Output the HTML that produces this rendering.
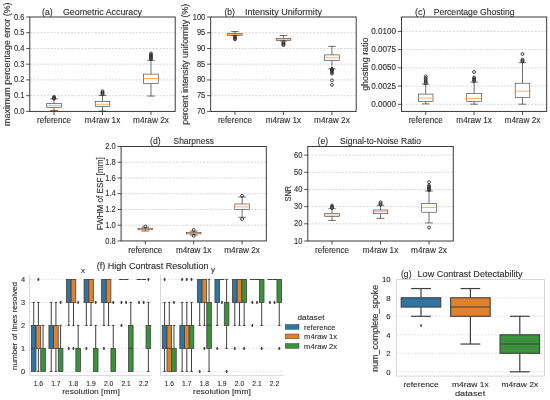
<!DOCTYPE html>
<html><head><meta charset="utf-8"><title>figure</title>
<style>
html,body{margin:0;padding:0;background:#fff;}
body{width:550px;height:400px;overflow:hidden;}
svg{display:block;font-family:"Liberation Sans", sans-serif;will-change:transform;}
text{stroke:#333333;stroke-width:0.12px;}
</style></head>
<body>
<svg width="550" height="400" viewBox="0 0 550 400">
<rect x="0" y="0" width="550" height="400" fill="#ffffff"/>
<line x1="30.30" y1="95.66" x2="174.70" y2="95.66" stroke="#c8c8c8" stroke-width="0.8" stroke-dasharray="1.9 1.5"/>
<line x1="30.30" y1="79.92" x2="174.70" y2="79.92" stroke="#c8c8c8" stroke-width="0.8" stroke-dasharray="1.9 1.5"/>
<line x1="30.30" y1="64.18" x2="174.70" y2="64.18" stroke="#c8c8c8" stroke-width="0.8" stroke-dasharray="1.9 1.5"/>
<line x1="30.30" y1="48.44" x2="174.70" y2="48.44" stroke="#c8c8c8" stroke-width="0.8" stroke-dasharray="1.9 1.5"/>
<line x1="30.30" y1="32.70" x2="174.70" y2="32.70" stroke="#c8c8c8" stroke-width="0.8" stroke-dasharray="1.9 1.5"/>
<line x1="54.03" y1="103.60" x2="54.03" y2="98.80" stroke="#333333" stroke-width="0.7"/>
<line x1="54.03" y1="107.50" x2="54.03" y2="110.50" stroke="#333333" stroke-width="0.7"/>
<line x1="50.23" y1="98.80" x2="57.83" y2="98.80" stroke="#333333" stroke-width="0.7"/>
<line x1="50.23" y1="110.50" x2="57.83" y2="110.50" stroke="#333333" stroke-width="0.7"/>
<rect x="46.73" y="103.60" width="14.60" height="3.90" fill="#ffffff" stroke="#333333" stroke-width="0.6"/>
<line x1="47.13" y1="105.65" x2="60.93" y2="105.65" stroke="#ff7f0e" stroke-width="0.6"/>
<circle cx="54.03" cy="96.90" r="1.45" fill="none" stroke="#262626" stroke-width="0.85"/>
<circle cx="54.03" cy="97.90" r="1.45" fill="none" stroke="#262626" stroke-width="0.85"/>
<circle cx="54.03" cy="98.60" r="1.45" fill="none" stroke="#262626" stroke-width="0.85"/>
<line x1="102.50" y1="101.40" x2="102.50" y2="95.50" stroke="#333333" stroke-width="0.7"/>
<line x1="102.50" y1="106.40" x2="102.50" y2="111.10" stroke="#333333" stroke-width="0.7"/>
<line x1="98.70" y1="95.50" x2="106.30" y2="95.50" stroke="#333333" stroke-width="0.7"/>
<line x1="98.70" y1="111.10" x2="106.30" y2="111.10" stroke="#333333" stroke-width="0.7"/>
<rect x="95.20" y="101.40" width="14.60" height="5.00" fill="#ffffff" stroke="#333333" stroke-width="0.6"/>
<line x1="95.60" y1="104.30" x2="109.40" y2="104.30" stroke="#ff7f0e" stroke-width="0.6"/>
<circle cx="102.50" cy="91.20" r="1.45" fill="none" stroke="#262626" stroke-width="0.85"/>
<circle cx="102.50" cy="92.40" r="1.45" fill="none" stroke="#262626" stroke-width="0.85"/>
<circle cx="102.50" cy="93.40" r="1.45" fill="none" stroke="#262626" stroke-width="0.85"/>
<circle cx="102.50" cy="94.20" r="1.45" fill="none" stroke="#262626" stroke-width="0.85"/>
<line x1="150.97" y1="74.10" x2="150.97" y2="60.30" stroke="#333333" stroke-width="0.7"/>
<line x1="150.97" y1="83.50" x2="150.97" y2="96.05" stroke="#333333" stroke-width="0.7"/>
<line x1="147.17" y1="60.30" x2="154.77" y2="60.30" stroke="#333333" stroke-width="0.7"/>
<line x1="147.17" y1="96.05" x2="154.77" y2="96.05" stroke="#333333" stroke-width="0.7"/>
<rect x="143.67" y="74.10" width="14.60" height="9.40" fill="#ffffff" stroke="#333333" stroke-width="0.6"/>
<line x1="144.07" y1="78.50" x2="157.87" y2="78.50" stroke="#ff7f0e" stroke-width="0.6"/>
<circle cx="150.97" cy="53.50" r="1.45" fill="none" stroke="#262626" stroke-width="0.85"/>
<circle cx="150.97" cy="54.60" r="1.45" fill="none" stroke="#262626" stroke-width="0.85"/>
<circle cx="150.97" cy="55.80" r="1.45" fill="none" stroke="#262626" stroke-width="0.85"/>
<circle cx="150.97" cy="57.00" r="1.45" fill="none" stroke="#262626" stroke-width="0.85"/>
<circle cx="150.97" cy="58.20" r="1.45" fill="none" stroke="#262626" stroke-width="0.85"/>
<circle cx="150.97" cy="59.20" r="1.45" fill="none" stroke="#262626" stroke-width="0.85"/>
<rect x="29.80" y="17.00" width="145.40" height="94.40" fill="none" stroke="#262626" stroke-width="0.9"/>
<line x1="26.20" y1="111.40" x2="29.80" y2="111.40" stroke="#262626" stroke-width="0.8"/>
<text x="24.40" y="113.95" font-size="8.3" text-anchor="end" fill="#2e2e2e" textLength="10.50" lengthAdjust="spacingAndGlyphs">0.0</text>
<line x1="26.20" y1="95.66" x2="29.80" y2="95.66" stroke="#262626" stroke-width="0.8"/>
<text x="24.40" y="98.21" font-size="8.3" text-anchor="end" fill="#2e2e2e" textLength="10.50" lengthAdjust="spacingAndGlyphs">0.1</text>
<line x1="26.20" y1="79.92" x2="29.80" y2="79.92" stroke="#262626" stroke-width="0.8"/>
<text x="24.40" y="82.47" font-size="8.3" text-anchor="end" fill="#2e2e2e" textLength="10.50" lengthAdjust="spacingAndGlyphs">0.2</text>
<line x1="26.20" y1="64.18" x2="29.80" y2="64.18" stroke="#262626" stroke-width="0.8"/>
<text x="24.40" y="66.73" font-size="8.3" text-anchor="end" fill="#2e2e2e" textLength="10.50" lengthAdjust="spacingAndGlyphs">0.3</text>
<line x1="26.20" y1="48.44" x2="29.80" y2="48.44" stroke="#262626" stroke-width="0.8"/>
<text x="24.40" y="50.99" font-size="8.3" text-anchor="end" fill="#2e2e2e" textLength="10.50" lengthAdjust="spacingAndGlyphs">0.4</text>
<line x1="26.20" y1="32.70" x2="29.80" y2="32.70" stroke="#262626" stroke-width="0.8"/>
<text x="24.40" y="35.25" font-size="8.3" text-anchor="end" fill="#2e2e2e" textLength="10.50" lengthAdjust="spacingAndGlyphs">0.5</text>
<line x1="26.20" y1="16.96" x2="29.80" y2="16.96" stroke="#262626" stroke-width="0.8"/>
<text x="24.40" y="19.51" font-size="8.3" text-anchor="end" fill="#2e2e2e" textLength="10.50" lengthAdjust="spacingAndGlyphs">0.6</text>
<line x1="54.03" y1="111.40" x2="54.03" y2="115.00" stroke="#262626" stroke-width="0.8"/>
<text x="54.03" y="122.50" font-size="8.5" text-anchor="middle" fill="#2e2e2e" textLength="34.00" lengthAdjust="spacingAndGlyphs">reference</text>
<line x1="102.50" y1="111.40" x2="102.50" y2="115.00" stroke="#262626" stroke-width="0.8"/>
<text x="102.50" y="122.50" font-size="8.5" text-anchor="middle" fill="#2e2e2e" textLength="35.50" lengthAdjust="spacingAndGlyphs">m4raw 1x</text>
<line x1="150.97" y1="111.40" x2="150.97" y2="115.00" stroke="#262626" stroke-width="0.8"/>
<text x="150.97" y="122.50" font-size="8.5" text-anchor="middle" fill="#2e2e2e" textLength="35.80" lengthAdjust="spacingAndGlyphs">m4raw 2x</text>
<text x="102.50" y="14.80" font-size="9.1" text-anchor="middle" fill="#2e2e2e" textLength="79.00" lengthAdjust="spacingAndGlyphs">Geometric Accuracy</text>
<text x="42.00" y="14.80" font-size="9.1" text-anchor="start" fill="#2e2e2e" textLength="10.60" lengthAdjust="spacingAndGlyphs">(a)</text>
<text x="9.80" y="64.20" font-size="8.6" text-anchor="middle" fill="#2e2e2e" textLength="123.50" lengthAdjust="spacingAndGlyphs" transform="rotate(-90 9.80 64.20)">maximum percentage error (%)</text>
<line x1="211.20" y1="95.67" x2="355.70" y2="95.67" stroke="#c8c8c8" stroke-width="0.8" stroke-dasharray="1.9 1.5"/>
<line x1="211.20" y1="79.94" x2="355.70" y2="79.94" stroke="#c8c8c8" stroke-width="0.8" stroke-dasharray="1.9 1.5"/>
<line x1="211.20" y1="64.20" x2="355.70" y2="64.20" stroke="#c8c8c8" stroke-width="0.8" stroke-dasharray="1.9 1.5"/>
<line x1="211.20" y1="48.47" x2="355.70" y2="48.47" stroke="#c8c8c8" stroke-width="0.8" stroke-dasharray="1.9 1.5"/>
<line x1="211.20" y1="32.73" x2="355.70" y2="32.73" stroke="#c8c8c8" stroke-width="0.8" stroke-dasharray="1.9 1.5"/>
<line x1="234.95" y1="33.70" x2="234.95" y2="31.50" stroke="#333333" stroke-width="0.7"/>
<line x1="234.95" y1="35.20" x2="234.95" y2="35.60" stroke="#333333" stroke-width="0.7"/>
<line x1="231.15" y1="31.50" x2="238.75" y2="31.50" stroke="#333333" stroke-width="0.7"/>
<line x1="231.15" y1="35.60" x2="238.75" y2="35.60" stroke="#333333" stroke-width="0.7"/>
<rect x="227.65" y="33.70" width="14.60" height="1.50" fill="#ffffff" stroke="#333333" stroke-width="0.6"/>
<line x1="228.05" y1="34.40" x2="241.85" y2="34.40" stroke="#ff7f0e" stroke-width="0.6"/>
<circle cx="234.95" cy="36.60" r="1.45" fill="none" stroke="#262626" stroke-width="0.85"/>
<circle cx="234.95" cy="37.60" r="1.45" fill="none" stroke="#262626" stroke-width="0.85"/>
<circle cx="234.95" cy="38.60" r="1.45" fill="none" stroke="#262626" stroke-width="0.85"/>
<circle cx="234.95" cy="39.30" r="1.45" fill="none" stroke="#262626" stroke-width="0.85"/>
<line x1="283.45" y1="38.40" x2="283.45" y2="35.50" stroke="#333333" stroke-width="0.7"/>
<line x1="283.45" y1="40.30" x2="283.45" y2="41.00" stroke="#333333" stroke-width="0.7"/>
<line x1="279.65" y1="35.50" x2="287.25" y2="35.50" stroke="#333333" stroke-width="0.7"/>
<line x1="279.65" y1="41.00" x2="287.25" y2="41.00" stroke="#333333" stroke-width="0.7"/>
<rect x="276.15" y="38.40" width="14.60" height="1.90" fill="#ffffff" stroke="#333333" stroke-width="0.6"/>
<line x1="276.55" y1="39.30" x2="290.35" y2="39.30" stroke="#ff7f0e" stroke-width="0.6"/>
<circle cx="283.45" cy="42.20" r="1.45" fill="none" stroke="#262626" stroke-width="0.85"/>
<circle cx="283.45" cy="43.20" r="1.45" fill="none" stroke="#262626" stroke-width="0.85"/>
<circle cx="283.45" cy="44.20" r="1.45" fill="none" stroke="#262626" stroke-width="0.85"/>
<circle cx="283.45" cy="45.20" r="1.45" fill="none" stroke="#262626" stroke-width="0.85"/>
<line x1="331.95" y1="54.90" x2="331.95" y2="46.40" stroke="#333333" stroke-width="0.7"/>
<line x1="331.95" y1="60.40" x2="331.95" y2="68.90" stroke="#333333" stroke-width="0.7"/>
<line x1="328.15" y1="46.40" x2="335.75" y2="46.40" stroke="#333333" stroke-width="0.7"/>
<line x1="328.15" y1="68.90" x2="335.75" y2="68.90" stroke="#333333" stroke-width="0.7"/>
<rect x="324.65" y="54.90" width="14.60" height="5.50" fill="#ffffff" stroke="#333333" stroke-width="0.6"/>
<line x1="325.05" y1="57.70" x2="338.85" y2="57.70" stroke="#ff7f0e" stroke-width="0.6"/>
<circle cx="331.95" cy="69.00" r="1.45" fill="none" stroke="#262626" stroke-width="0.85"/>
<circle cx="331.95" cy="69.90" r="1.45" fill="none" stroke="#262626" stroke-width="0.85"/>
<circle cx="331.95" cy="70.80" r="1.45" fill="none" stroke="#262626" stroke-width="0.85"/>
<circle cx="331.95" cy="72.30" r="1.45" fill="none" stroke="#262626" stroke-width="0.85"/>
<circle cx="331.95" cy="73.70" r="1.45" fill="none" stroke="#262626" stroke-width="0.85"/>
<circle cx="331.95" cy="80.40" r="1.45" fill="none" stroke="#262626" stroke-width="0.85"/>
<circle cx="331.95" cy="84.90" r="1.45" fill="none" stroke="#262626" stroke-width="0.85"/>
<rect x="210.70" y="17.00" width="145.50" height="94.40" fill="none" stroke="#262626" stroke-width="0.9"/>
<line x1="207.10" y1="111.41" x2="210.70" y2="111.41" stroke="#262626" stroke-width="0.8"/>
<text x="205.30" y="113.96" font-size="8.3" text-anchor="end" fill="#2e2e2e" textLength="8.40" lengthAdjust="spacingAndGlyphs">70</text>
<line x1="207.10" y1="95.67" x2="210.70" y2="95.67" stroke="#262626" stroke-width="0.8"/>
<text x="205.30" y="98.22" font-size="8.3" text-anchor="end" fill="#2e2e2e" textLength="8.40" lengthAdjust="spacingAndGlyphs">75</text>
<line x1="207.10" y1="79.94" x2="210.70" y2="79.94" stroke="#262626" stroke-width="0.8"/>
<text x="205.30" y="82.49" font-size="8.3" text-anchor="end" fill="#2e2e2e" textLength="8.40" lengthAdjust="spacingAndGlyphs">80</text>
<line x1="207.10" y1="64.20" x2="210.70" y2="64.20" stroke="#262626" stroke-width="0.8"/>
<text x="205.30" y="66.75" font-size="8.3" text-anchor="end" fill="#2e2e2e" textLength="8.40" lengthAdjust="spacingAndGlyphs">85</text>
<line x1="207.10" y1="48.47" x2="210.70" y2="48.47" stroke="#262626" stroke-width="0.8"/>
<text x="205.30" y="51.02" font-size="8.3" text-anchor="end" fill="#2e2e2e" textLength="8.40" lengthAdjust="spacingAndGlyphs">90</text>
<line x1="207.10" y1="32.73" x2="210.70" y2="32.73" stroke="#262626" stroke-width="0.8"/>
<text x="205.30" y="35.28" font-size="8.3" text-anchor="end" fill="#2e2e2e" textLength="8.40" lengthAdjust="spacingAndGlyphs">95</text>
<line x1="207.10" y1="17.00" x2="210.70" y2="17.00" stroke="#262626" stroke-width="0.8"/>
<text x="205.30" y="19.55" font-size="8.3" text-anchor="end" fill="#2e2e2e" textLength="12.60" lengthAdjust="spacingAndGlyphs">100</text>
<line x1="234.95" y1="111.40" x2="234.95" y2="115.00" stroke="#262626" stroke-width="0.8"/>
<text x="234.95" y="122.50" font-size="8.5" text-anchor="middle" fill="#2e2e2e" textLength="34.00" lengthAdjust="spacingAndGlyphs">reference</text>
<line x1="283.45" y1="111.40" x2="283.45" y2="115.00" stroke="#262626" stroke-width="0.8"/>
<text x="283.45" y="122.50" font-size="8.5" text-anchor="middle" fill="#2e2e2e" textLength="35.50" lengthAdjust="spacingAndGlyphs">m4raw 1x</text>
<line x1="331.95" y1="111.40" x2="331.95" y2="115.00" stroke="#262626" stroke-width="0.8"/>
<text x="331.95" y="122.50" font-size="8.5" text-anchor="middle" fill="#2e2e2e" textLength="35.80" lengthAdjust="spacingAndGlyphs">m4raw 2x</text>
<text x="283.45" y="14.80" font-size="9.1" text-anchor="middle" fill="#2e2e2e" textLength="77.00" lengthAdjust="spacingAndGlyphs">Intensity Uniformity</text>
<text x="224.40" y="14.80" font-size="9.1" text-anchor="start" fill="#2e2e2e" textLength="10.60" lengthAdjust="spacingAndGlyphs">(b)</text>
<text x="188.30" y="64.20" font-size="8.6" text-anchor="middle" fill="#2e2e2e" textLength="121.00" lengthAdjust="spacingAndGlyphs" transform="rotate(-90 188.30 64.20)">percent intensity uniformity (%)</text>
<line x1="402.00" y1="104.30" x2="546.20" y2="104.30" stroke="#c8c8c8" stroke-width="0.8" stroke-dasharray="1.9 1.5"/>
<line x1="402.00" y1="86.07" x2="546.20" y2="86.07" stroke="#c8c8c8" stroke-width="0.8" stroke-dasharray="1.9 1.5"/>
<line x1="402.00" y1="67.85" x2="546.20" y2="67.85" stroke="#c8c8c8" stroke-width="0.8" stroke-dasharray="1.9 1.5"/>
<line x1="402.00" y1="49.62" x2="546.20" y2="49.62" stroke="#c8c8c8" stroke-width="0.8" stroke-dasharray="1.9 1.5"/>
<line x1="402.00" y1="31.40" x2="546.20" y2="31.40" stroke="#c8c8c8" stroke-width="0.8" stroke-dasharray="1.9 1.5"/>
<line x1="425.70" y1="94.10" x2="425.70" y2="84.10" stroke="#333333" stroke-width="0.7"/>
<line x1="425.70" y1="101.30" x2="425.70" y2="103.90" stroke="#333333" stroke-width="0.7"/>
<line x1="421.90" y1="84.10" x2="429.50" y2="84.10" stroke="#333333" stroke-width="0.7"/>
<line x1="421.90" y1="103.90" x2="429.50" y2="103.90" stroke="#333333" stroke-width="0.7"/>
<rect x="418.40" y="94.10" width="14.60" height="7.20" fill="#ffffff" stroke="#333333" stroke-width="0.6"/>
<line x1="418.80" y1="98.10" x2="432.60" y2="98.10" stroke="#ff7f0e" stroke-width="0.6"/>
<circle cx="425.70" cy="76.40" r="1.45" fill="none" stroke="#262626" stroke-width="0.85"/>
<circle cx="425.70" cy="78.00" r="1.45" fill="none" stroke="#262626" stroke-width="0.85"/>
<circle cx="425.70" cy="79.50" r="1.45" fill="none" stroke="#262626" stroke-width="0.85"/>
<circle cx="425.70" cy="81.00" r="1.45" fill="none" stroke="#262626" stroke-width="0.85"/>
<circle cx="425.70" cy="82.30" r="1.45" fill="none" stroke="#262626" stroke-width="0.85"/>
<circle cx="425.70" cy="83.40" r="1.45" fill="none" stroke="#262626" stroke-width="0.85"/>
<line x1="474.10" y1="93.40" x2="474.10" y2="82.00" stroke="#333333" stroke-width="0.7"/>
<line x1="474.10" y1="101.40" x2="474.10" y2="104.20" stroke="#333333" stroke-width="0.7"/>
<line x1="470.30" y1="82.00" x2="477.90" y2="82.00" stroke="#333333" stroke-width="0.7"/>
<line x1="470.30" y1="104.20" x2="477.90" y2="104.20" stroke="#333333" stroke-width="0.7"/>
<rect x="466.80" y="93.40" width="14.60" height="8.00" fill="#ffffff" stroke="#333333" stroke-width="0.6"/>
<line x1="467.20" y1="98.40" x2="481.00" y2="98.40" stroke="#ff7f0e" stroke-width="0.6"/>
<circle cx="474.10" cy="72.00" r="1.45" fill="none" stroke="#262626" stroke-width="0.85"/>
<circle cx="474.10" cy="77.50" r="1.45" fill="none" stroke="#262626" stroke-width="0.85"/>
<circle cx="474.10" cy="78.80" r="1.45" fill="none" stroke="#262626" stroke-width="0.85"/>
<circle cx="474.10" cy="80.00" r="1.45" fill="none" stroke="#262626" stroke-width="0.85"/>
<circle cx="474.10" cy="81.20" r="1.45" fill="none" stroke="#262626" stroke-width="0.85"/>
<line x1="522.50" y1="83.20" x2="522.50" y2="62.60" stroke="#333333" stroke-width="0.7"/>
<line x1="522.50" y1="97.60" x2="522.50" y2="104.20" stroke="#333333" stroke-width="0.7"/>
<line x1="518.70" y1="62.60" x2="526.30" y2="62.60" stroke="#333333" stroke-width="0.7"/>
<line x1="518.70" y1="104.20" x2="526.30" y2="104.20" stroke="#333333" stroke-width="0.7"/>
<rect x="515.20" y="83.20" width="14.60" height="14.40" fill="#ffffff" stroke="#333333" stroke-width="0.6"/>
<line x1="515.60" y1="91.20" x2="529.40" y2="91.20" stroke="#ff7f0e" stroke-width="0.6"/>
<circle cx="522.50" cy="54.00" r="1.45" fill="none" stroke="#262626" stroke-width="0.85"/>
<circle cx="522.50" cy="59.50" r="1.45" fill="none" stroke="#262626" stroke-width="0.85"/>
<circle cx="522.50" cy="60.60" r="1.45" fill="none" stroke="#262626" stroke-width="0.85"/>
<circle cx="522.50" cy="61.60" r="1.45" fill="none" stroke="#262626" stroke-width="0.85"/>
<rect x="401.50" y="17.00" width="145.20" height="94.40" fill="none" stroke="#262626" stroke-width="0.9"/>
<line x1="397.90" y1="104.30" x2="401.50" y2="104.30" stroke="#262626" stroke-width="0.8"/>
<text x="396.10" y="106.85" font-size="8.3" text-anchor="end" fill="#2e2e2e" textLength="24.80" lengthAdjust="spacingAndGlyphs">0.0000</text>
<line x1="397.90" y1="86.07" x2="401.50" y2="86.07" stroke="#262626" stroke-width="0.8"/>
<text x="396.10" y="88.62" font-size="8.3" text-anchor="end" fill="#2e2e2e" textLength="24.80" lengthAdjust="spacingAndGlyphs">0.0025</text>
<line x1="397.90" y1="67.85" x2="401.50" y2="67.85" stroke="#262626" stroke-width="0.8"/>
<text x="396.10" y="70.40" font-size="8.3" text-anchor="end" fill="#2e2e2e" textLength="24.80" lengthAdjust="spacingAndGlyphs">0.0050</text>
<line x1="397.90" y1="49.62" x2="401.50" y2="49.62" stroke="#262626" stroke-width="0.8"/>
<text x="396.10" y="52.17" font-size="8.3" text-anchor="end" fill="#2e2e2e" textLength="24.80" lengthAdjust="spacingAndGlyphs">0.0075</text>
<line x1="397.90" y1="31.40" x2="401.50" y2="31.40" stroke="#262626" stroke-width="0.8"/>
<text x="396.10" y="33.95" font-size="8.3" text-anchor="end" fill="#2e2e2e" textLength="24.80" lengthAdjust="spacingAndGlyphs">0.0100</text>
<line x1="425.70" y1="111.40" x2="425.70" y2="115.00" stroke="#262626" stroke-width="0.8"/>
<text x="425.70" y="122.50" font-size="8.5" text-anchor="middle" fill="#2e2e2e" textLength="34.00" lengthAdjust="spacingAndGlyphs">reference</text>
<line x1="474.10" y1="111.40" x2="474.10" y2="115.00" stroke="#262626" stroke-width="0.8"/>
<text x="474.10" y="122.50" font-size="8.5" text-anchor="middle" fill="#2e2e2e" textLength="35.50" lengthAdjust="spacingAndGlyphs">m4raw 1x</text>
<line x1="522.50" y1="111.40" x2="522.50" y2="115.00" stroke="#262626" stroke-width="0.8"/>
<text x="522.50" y="122.50" font-size="8.5" text-anchor="middle" fill="#2e2e2e" textLength="35.80" lengthAdjust="spacingAndGlyphs">m4raw 2x</text>
<text x="474.10" y="14.80" font-size="9.1" text-anchor="middle" fill="#2e2e2e" textLength="80.80" lengthAdjust="spacingAndGlyphs">Percentage Ghosting</text>
<text x="415.00" y="14.80" font-size="9.1" text-anchor="start" fill="#2e2e2e" textLength="10.60" lengthAdjust="spacingAndGlyphs">(c)</text>
<text x="368.20" y="64.20" font-size="8.6" text-anchor="middle" fill="#2e2e2e" textLength="53.30" lengthAdjust="spacingAndGlyphs" transform="rotate(-90 368.20 64.20)">ghosting ratio</text>
<line x1="121.60" y1="225.20" x2="265.80" y2="225.20" stroke="#c8c8c8" stroke-width="0.8" stroke-dasharray="1.9 1.5"/>
<line x1="121.60" y1="209.45" x2="265.80" y2="209.45" stroke="#c8c8c8" stroke-width="0.8" stroke-dasharray="1.9 1.5"/>
<line x1="121.60" y1="193.70" x2="265.80" y2="193.70" stroke="#c8c8c8" stroke-width="0.8" stroke-dasharray="1.9 1.5"/>
<line x1="121.60" y1="177.95" x2="265.80" y2="177.95" stroke="#c8c8c8" stroke-width="0.8" stroke-dasharray="1.9 1.5"/>
<line x1="121.60" y1="162.20" x2="265.80" y2="162.20" stroke="#c8c8c8" stroke-width="0.8" stroke-dasharray="1.9 1.5"/>
<line x1="145.30" y1="228.30" x2="145.30" y2="227.20" stroke="#333333" stroke-width="0.7"/>
<line x1="145.30" y1="229.80" x2="145.30" y2="231.00" stroke="#333333" stroke-width="0.7"/>
<line x1="141.50" y1="227.20" x2="149.10" y2="227.20" stroke="#333333" stroke-width="0.7"/>
<line x1="141.50" y1="231.00" x2="149.10" y2="231.00" stroke="#333333" stroke-width="0.7"/>
<rect x="138.00" y="228.30" width="14.60" height="1.50" fill="#ffffff" stroke="#333333" stroke-width="0.6"/>
<line x1="138.40" y1="229.00" x2="152.20" y2="229.00" stroke="#ff7f0e" stroke-width="0.6"/>
<circle cx="145.30" cy="226.50" r="1.45" fill="none" stroke="#262626" stroke-width="0.85"/>
<line x1="193.70" y1="232.40" x2="193.70" y2="231.20" stroke="#333333" stroke-width="0.7"/>
<line x1="193.70" y1="233.90" x2="193.70" y2="235.00" stroke="#333333" stroke-width="0.7"/>
<line x1="189.90" y1="231.20" x2="197.50" y2="231.20" stroke="#333333" stroke-width="0.7"/>
<line x1="189.90" y1="235.00" x2="197.50" y2="235.00" stroke="#333333" stroke-width="0.7"/>
<rect x="186.40" y="232.40" width="14.60" height="1.50" fill="#ffffff" stroke="#333333" stroke-width="0.6"/>
<line x1="186.80" y1="233.10" x2="200.60" y2="233.10" stroke="#ff7f0e" stroke-width="0.6"/>
<circle cx="193.70" cy="229.90" r="1.45" fill="none" stroke="#262626" stroke-width="0.85"/>
<circle cx="193.70" cy="235.80" r="1.45" fill="none" stroke="#262626" stroke-width="0.85"/>
<line x1="242.10" y1="204.00" x2="242.10" y2="197.00" stroke="#333333" stroke-width="0.7"/>
<line x1="242.10" y1="209.50" x2="242.10" y2="217.30" stroke="#333333" stroke-width="0.7"/>
<line x1="238.30" y1="197.00" x2="245.90" y2="197.00" stroke="#333333" stroke-width="0.7"/>
<line x1="238.30" y1="217.30" x2="245.90" y2="217.30" stroke="#333333" stroke-width="0.7"/>
<rect x="234.80" y="204.00" width="14.60" height="5.50" fill="#ffffff" stroke="#333333" stroke-width="0.6"/>
<line x1="235.20" y1="206.80" x2="249.00" y2="206.80" stroke="#ff7f0e" stroke-width="0.6"/>
<circle cx="242.10" cy="195.80" r="1.45" fill="none" stroke="#262626" stroke-width="0.85"/>
<circle cx="242.10" cy="219.00" r="1.45" fill="none" stroke="#262626" stroke-width="0.85"/>
<rect x="121.10" y="146.45" width="145.20" height="94.50" fill="none" stroke="#262626" stroke-width="0.9"/>
<line x1="117.50" y1="240.95" x2="121.10" y2="240.95" stroke="#262626" stroke-width="0.8"/>
<text x="115.70" y="243.50" font-size="8.3" text-anchor="end" fill="#2e2e2e" textLength="10.50" lengthAdjust="spacingAndGlyphs">0.8</text>
<line x1="117.50" y1="225.20" x2="121.10" y2="225.20" stroke="#262626" stroke-width="0.8"/>
<text x="115.70" y="227.75" font-size="8.3" text-anchor="end" fill="#2e2e2e" textLength="10.50" lengthAdjust="spacingAndGlyphs">1.0</text>
<line x1="117.50" y1="209.45" x2="121.10" y2="209.45" stroke="#262626" stroke-width="0.8"/>
<text x="115.70" y="212.00" font-size="8.3" text-anchor="end" fill="#2e2e2e" textLength="10.50" lengthAdjust="spacingAndGlyphs">1.2</text>
<line x1="117.50" y1="193.70" x2="121.10" y2="193.70" stroke="#262626" stroke-width="0.8"/>
<text x="115.70" y="196.25" font-size="8.3" text-anchor="end" fill="#2e2e2e" textLength="10.50" lengthAdjust="spacingAndGlyphs">1.4</text>
<line x1="117.50" y1="177.95" x2="121.10" y2="177.95" stroke="#262626" stroke-width="0.8"/>
<text x="115.70" y="180.50" font-size="8.3" text-anchor="end" fill="#2e2e2e" textLength="10.50" lengthAdjust="spacingAndGlyphs">1.6</text>
<line x1="117.50" y1="162.20" x2="121.10" y2="162.20" stroke="#262626" stroke-width="0.8"/>
<text x="115.70" y="164.75" font-size="8.3" text-anchor="end" fill="#2e2e2e" textLength="10.50" lengthAdjust="spacingAndGlyphs">1.8</text>
<line x1="117.50" y1="146.45" x2="121.10" y2="146.45" stroke="#262626" stroke-width="0.8"/>
<text x="115.70" y="149.00" font-size="8.3" text-anchor="end" fill="#2e2e2e" textLength="10.50" lengthAdjust="spacingAndGlyphs">2.0</text>
<line x1="145.30" y1="240.95" x2="145.30" y2="244.55" stroke="#262626" stroke-width="0.8"/>
<text x="145.30" y="252.60" font-size="8.5" text-anchor="middle" fill="#2e2e2e" textLength="34.00" lengthAdjust="spacingAndGlyphs">reference</text>
<line x1="193.70" y1="240.95" x2="193.70" y2="244.55" stroke="#262626" stroke-width="0.8"/>
<text x="193.70" y="252.60" font-size="8.5" text-anchor="middle" fill="#2e2e2e" textLength="35.50" lengthAdjust="spacingAndGlyphs">m4raw 1x</text>
<line x1="242.10" y1="240.95" x2="242.10" y2="244.55" stroke="#262626" stroke-width="0.8"/>
<text x="242.10" y="252.60" font-size="8.5" text-anchor="middle" fill="#2e2e2e" textLength="35.80" lengthAdjust="spacingAndGlyphs">m4raw 2x</text>
<text x="193.70" y="144.00" font-size="9.1" text-anchor="middle" fill="#2e2e2e" textLength="40.40" lengthAdjust="spacingAndGlyphs">Sharpness</text>
<text x="150.00" y="144.00" font-size="9.1" text-anchor="start" fill="#2e2e2e" textLength="10.60" lengthAdjust="spacingAndGlyphs">(d)</text>
<text x="102.60" y="193.70" font-size="8.6" text-anchor="middle" fill="#2e2e2e" textLength="73.00" lengthAdjust="spacingAndGlyphs" transform="rotate(-90 102.60 193.70)">FWHM of ESF [mm]</text>
<line x1="308.30" y1="223.82" x2="452.75" y2="223.82" stroke="#c8c8c8" stroke-width="0.8" stroke-dasharray="1.9 1.5"/>
<line x1="308.30" y1="206.64" x2="452.75" y2="206.64" stroke="#c8c8c8" stroke-width="0.8" stroke-dasharray="1.9 1.5"/>
<line x1="308.30" y1="189.46" x2="452.75" y2="189.46" stroke="#c8c8c8" stroke-width="0.8" stroke-dasharray="1.9 1.5"/>
<line x1="308.30" y1="172.28" x2="452.75" y2="172.28" stroke="#c8c8c8" stroke-width="0.8" stroke-dasharray="1.9 1.5"/>
<line x1="308.30" y1="155.10" x2="452.75" y2="155.10" stroke="#c8c8c8" stroke-width="0.8" stroke-dasharray="1.9 1.5"/>
<line x1="332.04" y1="213.25" x2="332.04" y2="208.75" stroke="#333333" stroke-width="0.7"/>
<line x1="332.04" y1="216.50" x2="332.04" y2="220.45" stroke="#333333" stroke-width="0.7"/>
<line x1="328.24" y1="208.75" x2="335.84" y2="208.75" stroke="#333333" stroke-width="0.7"/>
<line x1="328.24" y1="220.45" x2="335.84" y2="220.45" stroke="#333333" stroke-width="0.7"/>
<rect x="324.74" y="213.25" width="14.60" height="3.25" fill="#ffffff" stroke="#333333" stroke-width="0.6"/>
<line x1="325.14" y1="215.00" x2="338.94" y2="215.00" stroke="#ff7f0e" stroke-width="0.6"/>
<circle cx="332.04" cy="205.50" r="1.45" fill="none" stroke="#262626" stroke-width="0.85"/>
<circle cx="332.04" cy="206.80" r="1.45" fill="none" stroke="#262626" stroke-width="0.85"/>
<circle cx="332.04" cy="208.00" r="1.45" fill="none" stroke="#262626" stroke-width="0.85"/>
<line x1="380.52" y1="210.00" x2="380.52" y2="205.30" stroke="#333333" stroke-width="0.7"/>
<line x1="380.52" y1="213.70" x2="380.52" y2="218.40" stroke="#333333" stroke-width="0.7"/>
<line x1="376.72" y1="205.30" x2="384.32" y2="205.30" stroke="#333333" stroke-width="0.7"/>
<line x1="376.72" y1="218.40" x2="384.32" y2="218.40" stroke="#333333" stroke-width="0.7"/>
<rect x="373.22" y="210.00" width="14.60" height="3.70" fill="#ffffff" stroke="#333333" stroke-width="0.6"/>
<line x1="373.62" y1="211.60" x2="387.43" y2="211.60" stroke="#ff7f0e" stroke-width="0.6"/>
<circle cx="380.52" cy="202.30" r="1.45" fill="none" stroke="#262626" stroke-width="0.85"/>
<circle cx="380.52" cy="203.60" r="1.45" fill="none" stroke="#262626" stroke-width="0.85"/>
<circle cx="380.52" cy="204.80" r="1.45" fill="none" stroke="#262626" stroke-width="0.85"/>
<line x1="429.01" y1="203.40" x2="429.01" y2="191.00" stroke="#333333" stroke-width="0.7"/>
<line x1="429.01" y1="212.20" x2="429.01" y2="222.90" stroke="#333333" stroke-width="0.7"/>
<line x1="425.21" y1="191.00" x2="432.81" y2="191.00" stroke="#333333" stroke-width="0.7"/>
<line x1="425.21" y1="222.90" x2="432.81" y2="222.90" stroke="#333333" stroke-width="0.7"/>
<rect x="421.71" y="203.40" width="14.60" height="8.80" fill="#ffffff" stroke="#333333" stroke-width="0.6"/>
<line x1="422.11" y1="207.50" x2="435.91" y2="207.50" stroke="#ff7f0e" stroke-width="0.6"/>
<circle cx="429.01" cy="182.20" r="1.45" fill="none" stroke="#262626" stroke-width="0.85"/>
<circle cx="429.01" cy="185.50" r="1.45" fill="none" stroke="#262626" stroke-width="0.85"/>
<circle cx="429.01" cy="186.80" r="1.45" fill="none" stroke="#262626" stroke-width="0.85"/>
<circle cx="429.01" cy="188.00" r="1.45" fill="none" stroke="#262626" stroke-width="0.85"/>
<circle cx="429.01" cy="189.20" r="1.45" fill="none" stroke="#262626" stroke-width="0.85"/>
<circle cx="429.01" cy="190.30" r="1.45" fill="none" stroke="#262626" stroke-width="0.85"/>
<circle cx="429.01" cy="227.60" r="1.45" fill="none" stroke="#262626" stroke-width="0.85"/>
<rect x="307.80" y="146.45" width="145.45" height="94.55" fill="none" stroke="#262626" stroke-width="0.9"/>
<line x1="304.20" y1="241.00" x2="307.80" y2="241.00" stroke="#262626" stroke-width="0.8"/>
<text x="302.40" y="243.55" font-size="8.3" text-anchor="end" fill="#2e2e2e" textLength="8.40" lengthAdjust="spacingAndGlyphs">10</text>
<line x1="304.20" y1="223.82" x2="307.80" y2="223.82" stroke="#262626" stroke-width="0.8"/>
<text x="302.40" y="226.37" font-size="8.3" text-anchor="end" fill="#2e2e2e" textLength="8.40" lengthAdjust="spacingAndGlyphs">20</text>
<line x1="304.20" y1="206.64" x2="307.80" y2="206.64" stroke="#262626" stroke-width="0.8"/>
<text x="302.40" y="209.19" font-size="8.3" text-anchor="end" fill="#2e2e2e" textLength="8.40" lengthAdjust="spacingAndGlyphs">30</text>
<line x1="304.20" y1="189.46" x2="307.80" y2="189.46" stroke="#262626" stroke-width="0.8"/>
<text x="302.40" y="192.01" font-size="8.3" text-anchor="end" fill="#2e2e2e" textLength="8.40" lengthAdjust="spacingAndGlyphs">40</text>
<line x1="304.20" y1="172.28" x2="307.80" y2="172.28" stroke="#262626" stroke-width="0.8"/>
<text x="302.40" y="174.83" font-size="8.3" text-anchor="end" fill="#2e2e2e" textLength="8.40" lengthAdjust="spacingAndGlyphs">50</text>
<line x1="304.20" y1="155.10" x2="307.80" y2="155.10" stroke="#262626" stroke-width="0.8"/>
<text x="302.40" y="157.65" font-size="8.3" text-anchor="end" fill="#2e2e2e" textLength="8.40" lengthAdjust="spacingAndGlyphs">60</text>
<line x1="332.04" y1="241.00" x2="332.04" y2="244.60" stroke="#262626" stroke-width="0.8"/>
<text x="332.04" y="252.60" font-size="8.5" text-anchor="middle" fill="#2e2e2e" textLength="34.00" lengthAdjust="spacingAndGlyphs">reference</text>
<line x1="380.52" y1="241.00" x2="380.52" y2="244.60" stroke="#262626" stroke-width="0.8"/>
<text x="380.52" y="252.60" font-size="8.5" text-anchor="middle" fill="#2e2e2e" textLength="35.50" lengthAdjust="spacingAndGlyphs">m4raw 1x</text>
<line x1="429.01" y1="241.00" x2="429.01" y2="244.60" stroke="#262626" stroke-width="0.8"/>
<text x="429.01" y="252.60" font-size="8.5" text-anchor="middle" fill="#2e2e2e" textLength="35.80" lengthAdjust="spacingAndGlyphs">m4raw 2x</text>
<text x="380.52" y="144.00" font-size="9.1" text-anchor="middle" fill="#2e2e2e" textLength="81.00" lengthAdjust="spacingAndGlyphs">Signal-to-Noise Ratio</text>
<text x="317.60" y="144.00" font-size="9.1" text-anchor="start" fill="#2e2e2e" textLength="10.60" lengthAdjust="spacingAndGlyphs">(e)</text>
<text x="291.00" y="193.72" font-size="8.6" text-anchor="middle" fill="#2e2e2e" textLength="15.40" lengthAdjust="spacingAndGlyphs" transform="rotate(-90 291.00 193.72)">SNR</text>
<line x1="30.10" y1="371.40" x2="152.45" y2="371.40" stroke="#d9d9d9" stroke-width="0.8" stroke-dasharray="1.9 1.6"/>
<line x1="30.10" y1="348.40" x2="152.45" y2="348.40" stroke="#d9d9d9" stroke-width="0.8" stroke-dasharray="1.9 1.6"/>
<line x1="30.10" y1="325.40" x2="152.45" y2="325.40" stroke="#d9d9d9" stroke-width="0.8" stroke-dasharray="1.9 1.6"/>
<line x1="30.10" y1="302.40" x2="152.45" y2="302.40" stroke="#d9d9d9" stroke-width="0.8" stroke-dasharray="1.9 1.6"/>
<line x1="30.10" y1="279.40" x2="152.45" y2="279.40" stroke="#d9d9d9" stroke-width="0.8" stroke-dasharray="1.9 1.6"/>
<line x1="29.60" y1="274.80" x2="29.60" y2="375.60" stroke="#d4d4d4" stroke-width="0.9"/>
<line x1="29.60" y1="375.60" x2="152.45" y2="375.60" stroke="#d4d4d4" stroke-width="0.9"/>
<line x1="161.00" y1="371.40" x2="283.35" y2="371.40" stroke="#d9d9d9" stroke-width="0.8" stroke-dasharray="1.9 1.6"/>
<line x1="161.00" y1="348.40" x2="283.35" y2="348.40" stroke="#d9d9d9" stroke-width="0.8" stroke-dasharray="1.9 1.6"/>
<line x1="161.00" y1="325.40" x2="283.35" y2="325.40" stroke="#d9d9d9" stroke-width="0.8" stroke-dasharray="1.9 1.6"/>
<line x1="161.00" y1="302.40" x2="283.35" y2="302.40" stroke="#d9d9d9" stroke-width="0.8" stroke-dasharray="1.9 1.6"/>
<line x1="161.00" y1="279.40" x2="283.35" y2="279.40" stroke="#d9d9d9" stroke-width="0.8" stroke-dasharray="1.9 1.6"/>
<line x1="160.50" y1="274.80" x2="160.50" y2="375.60" stroke="#d4d4d4" stroke-width="0.9"/>
<line x1="160.50" y1="375.60" x2="283.35" y2="375.60" stroke="#d4d4d4" stroke-width="0.9"/>
<line x1="33.70" y1="325.40" x2="33.70" y2="302.40" stroke="#3f3f3f" stroke-width="1.0"/>
<line x1="32.55" y1="302.40" x2="34.84" y2="302.40" stroke="#3f3f3f" stroke-width="1.0"/>
<rect x="31.40" y="325.40" width="4.59" height="46.00" fill="#3274a1" stroke="#3f3f3f" stroke-width="0.8"/>
<line x1="31.40" y1="348.40" x2="35.99" y2="348.40" stroke="#3f3f3f" stroke-width="0.9"/>
<line x1="38.38" y1="325.40" x2="38.38" y2="302.40" stroke="#3f3f3f" stroke-width="1.0"/>
<line x1="38.38" y1="348.40" x2="38.38" y2="371.40" stroke="#3f3f3f" stroke-width="1.0"/>
<line x1="37.23" y1="302.40" x2="39.52" y2="302.40" stroke="#3f3f3f" stroke-width="1.0"/>
<line x1="37.23" y1="371.40" x2="39.52" y2="371.40" stroke="#3f3f3f" stroke-width="1.0"/>
<rect x="36.08" y="325.40" width="4.59" height="23.00" fill="#e1812c" stroke="#3f3f3f" stroke-width="0.8"/>
<ellipse cx="38.38" cy="279.40" rx="0.95" ry="1.55" fill="#3f3f3f"/>
<line x1="43.05" y1="348.40" x2="43.05" y2="325.40" stroke="#3f3f3f" stroke-width="1.0"/>
<line x1="41.91" y1="325.40" x2="44.20" y2="325.40" stroke="#3f3f3f" stroke-width="1.0"/>
<rect x="40.76" y="348.40" width="4.59" height="23.00" fill="#3a923a" stroke="#3f3f3f" stroke-width="0.8"/>
<line x1="51.25" y1="325.40" x2="51.25" y2="302.40" stroke="#3f3f3f" stroke-width="1.0"/>
<line x1="51.25" y1="348.40" x2="51.25" y2="371.40" stroke="#3f3f3f" stroke-width="1.0"/>
<line x1="50.10" y1="302.40" x2="52.39" y2="302.40" stroke="#3f3f3f" stroke-width="1.0"/>
<line x1="50.10" y1="371.40" x2="52.39" y2="371.40" stroke="#3f3f3f" stroke-width="1.0"/>
<rect x="48.95" y="325.40" width="4.59" height="23.00" fill="#3274a1" stroke="#3f3f3f" stroke-width="0.8"/>
<line x1="55.93" y1="325.40" x2="55.93" y2="302.40" stroke="#3f3f3f" stroke-width="1.0"/>
<line x1="55.93" y1="348.40" x2="55.93" y2="371.40" stroke="#3f3f3f" stroke-width="1.0"/>
<line x1="54.78" y1="302.40" x2="57.07" y2="302.40" stroke="#3f3f3f" stroke-width="1.0"/>
<line x1="54.78" y1="371.40" x2="57.07" y2="371.40" stroke="#3f3f3f" stroke-width="1.0"/>
<rect x="53.63" y="325.40" width="4.59" height="23.00" fill="#e1812c" stroke="#3f3f3f" stroke-width="0.8"/>
<line x1="60.61" y1="348.40" x2="60.61" y2="325.40" stroke="#3f3f3f" stroke-width="1.0"/>
<line x1="59.46" y1="325.40" x2="61.75" y2="325.40" stroke="#3f3f3f" stroke-width="1.0"/>
<rect x="58.31" y="348.40" width="4.59" height="23.00" fill="#3a923a" stroke="#3f3f3f" stroke-width="0.8"/>
<ellipse cx="60.61" cy="302.40" rx="0.95" ry="1.55" fill="#3f3f3f"/>
<line x1="68.79" y1="302.40" x2="68.79" y2="325.40" stroke="#3f3f3f" stroke-width="1.0"/>
<line x1="67.65" y1="325.40" x2="69.94" y2="325.40" stroke="#3f3f3f" stroke-width="1.0"/>
<rect x="66.50" y="279.40" width="4.59" height="23.00" fill="#3274a1" stroke="#3f3f3f" stroke-width="0.8"/>
<ellipse cx="68.79" cy="348.40" rx="0.95" ry="1.55" fill="#3f3f3f"/>
<line x1="73.47" y1="302.40" x2="73.47" y2="325.40" stroke="#3f3f3f" stroke-width="1.0"/>
<line x1="72.33" y1="325.40" x2="74.62" y2="325.40" stroke="#3f3f3f" stroke-width="1.0"/>
<rect x="71.18" y="279.40" width="4.59" height="23.00" fill="#e1812c" stroke="#3f3f3f" stroke-width="0.8"/>
<ellipse cx="73.47" cy="348.40" rx="0.95" ry="1.55" fill="#3f3f3f"/>
<line x1="78.16" y1="348.40" x2="78.16" y2="325.40" stroke="#3f3f3f" stroke-width="1.0"/>
<line x1="77.01" y1="325.40" x2="79.30" y2="325.40" stroke="#3f3f3f" stroke-width="1.0"/>
<rect x="75.86" y="348.40" width="4.59" height="23.00" fill="#3a923a" stroke="#3f3f3f" stroke-width="0.8"/>
<ellipse cx="78.16" cy="302.40" rx="0.95" ry="1.55" fill="#3f3f3f"/>
<line x1="86.34" y1="302.40" x2="86.34" y2="325.40" stroke="#3f3f3f" stroke-width="1.0"/>
<line x1="85.20" y1="325.40" x2="87.49" y2="325.40" stroke="#3f3f3f" stroke-width="1.0"/>
<rect x="84.05" y="279.40" width="4.59" height="23.00" fill="#3274a1" stroke="#3f3f3f" stroke-width="0.8"/>
<ellipse cx="86.34" cy="348.40" rx="0.95" ry="1.55" fill="#3f3f3f"/>
<line x1="91.03" y1="302.40" x2="91.03" y2="325.40" stroke="#3f3f3f" stroke-width="1.0"/>
<line x1="89.88" y1="325.40" x2="92.17" y2="325.40" stroke="#3f3f3f" stroke-width="1.0"/>
<rect x="88.73" y="279.40" width="4.59" height="23.00" fill="#e1812c" stroke="#3f3f3f" stroke-width="0.8"/>
<line x1="95.71" y1="348.40" x2="95.71" y2="325.40" stroke="#3f3f3f" stroke-width="1.0"/>
<line x1="94.56" y1="325.40" x2="96.85" y2="325.40" stroke="#3f3f3f" stroke-width="1.0"/>
<rect x="93.41" y="348.40" width="4.59" height="23.00" fill="#3a923a" stroke="#3f3f3f" stroke-width="0.8"/>
<ellipse cx="95.71" cy="302.40" rx="0.95" ry="1.55" fill="#3f3f3f"/>
<line x1="103.90" y1="302.40" x2="103.90" y2="325.40" stroke="#3f3f3f" stroke-width="1.0"/>
<line x1="102.75" y1="325.40" x2="105.04" y2="325.40" stroke="#3f3f3f" stroke-width="1.0"/>
<rect x="101.60" y="279.40" width="4.59" height="23.00" fill="#3274a1" stroke="#3f3f3f" stroke-width="0.8"/>
<ellipse cx="103.90" cy="348.40" rx="0.95" ry="1.55" fill="#3f3f3f"/>
<line x1="108.58" y1="302.40" x2="108.58" y2="325.40" stroke="#3f3f3f" stroke-width="1.0"/>
<line x1="107.43" y1="325.40" x2="109.72" y2="325.40" stroke="#3f3f3f" stroke-width="1.0"/>
<rect x="106.28" y="279.40" width="4.59" height="23.00" fill="#e1812c" stroke="#3f3f3f" stroke-width="0.8"/>
<line x1="113.26" y1="348.40" x2="113.26" y2="325.40" stroke="#3f3f3f" stroke-width="1.0"/>
<line x1="112.11" y1="325.40" x2="114.40" y2="325.40" stroke="#3f3f3f" stroke-width="1.0"/>
<rect x="110.96" y="348.40" width="4.59" height="23.00" fill="#3a923a" stroke="#3f3f3f" stroke-width="0.8"/>
<ellipse cx="113.26" cy="302.40" rx="0.95" ry="1.55" fill="#3f3f3f"/>
<line x1="119.15" y1="279.50" x2="123.74" y2="279.50" stroke="#3f3f3f" stroke-width="1.0"/>
<ellipse cx="121.44" cy="302.40" rx="0.95" ry="1.55" fill="#3f3f3f"/>
<ellipse cx="121.44" cy="325.40" rx="0.95" ry="1.55" fill="#3f3f3f"/>
<line x1="123.83" y1="279.50" x2="128.42" y2="279.50" stroke="#3f3f3f" stroke-width="1.0"/>
<ellipse cx="126.12" cy="302.40" rx="0.95" ry="1.55" fill="#3f3f3f"/>
<line x1="130.81" y1="325.40" x2="130.81" y2="302.40" stroke="#3f3f3f" stroke-width="1.0"/>
<line x1="129.66" y1="302.40" x2="131.95" y2="302.40" stroke="#3f3f3f" stroke-width="1.0"/>
<rect x="128.51" y="325.40" width="4.59" height="46.00" fill="#3a923a" stroke="#3f3f3f" stroke-width="0.8"/>
<line x1="128.51" y1="348.40" x2="133.10" y2="348.40" stroke="#3f3f3f" stroke-width="0.9"/>
<line x1="136.70" y1="279.50" x2="141.29" y2="279.50" stroke="#3f3f3f" stroke-width="1.0"/>
<ellipse cx="139.00" cy="302.40" rx="0.95" ry="1.55" fill="#3f3f3f"/>
<line x1="141.38" y1="279.50" x2="145.97" y2="279.50" stroke="#3f3f3f" stroke-width="1.0"/>
<ellipse cx="143.68" cy="302.40" rx="0.95" ry="1.55" fill="#3f3f3f"/>
<line x1="148.36" y1="325.40" x2="148.36" y2="302.40" stroke="#3f3f3f" stroke-width="1.0"/>
<line x1="148.36" y1="348.40" x2="148.36" y2="371.40" stroke="#3f3f3f" stroke-width="1.0"/>
<line x1="147.21" y1="302.40" x2="149.50" y2="302.40" stroke="#3f3f3f" stroke-width="1.0"/>
<line x1="147.21" y1="371.40" x2="149.50" y2="371.40" stroke="#3f3f3f" stroke-width="1.0"/>
<rect x="146.06" y="325.40" width="4.59" height="23.00" fill="#3a923a" stroke="#3f3f3f" stroke-width="0.8"/>
<ellipse cx="148.36" cy="279.40" rx="0.95" ry="1.55" fill="#3f3f3f"/>
<line x1="164.59" y1="325.40" x2="164.59" y2="302.40" stroke="#3f3f3f" stroke-width="1.0"/>
<line x1="164.59" y1="348.40" x2="164.59" y2="371.40" stroke="#3f3f3f" stroke-width="1.0"/>
<line x1="163.45" y1="302.40" x2="165.74" y2="302.40" stroke="#3f3f3f" stroke-width="1.0"/>
<line x1="163.45" y1="371.40" x2="165.74" y2="371.40" stroke="#3f3f3f" stroke-width="1.0"/>
<rect x="162.30" y="325.40" width="4.59" height="23.00" fill="#3274a1" stroke="#3f3f3f" stroke-width="0.8"/>
<ellipse cx="164.59" cy="279.40" rx="0.95" ry="1.55" fill="#3f3f3f"/>
<line x1="169.28" y1="325.40" x2="169.28" y2="302.40" stroke="#3f3f3f" stroke-width="1.0"/>
<line x1="168.13" y1="302.40" x2="170.42" y2="302.40" stroke="#3f3f3f" stroke-width="1.0"/>
<rect x="166.98" y="325.40" width="4.59" height="46.00" fill="#e1812c" stroke="#3f3f3f" stroke-width="0.8"/>
<line x1="166.98" y1="348.40" x2="171.57" y2="348.40" stroke="#3f3f3f" stroke-width="0.9"/>
<line x1="173.96" y1="348.40" x2="173.96" y2="325.40" stroke="#3f3f3f" stroke-width="1.0"/>
<line x1="172.81" y1="325.40" x2="175.10" y2="325.40" stroke="#3f3f3f" stroke-width="1.0"/>
<rect x="171.66" y="348.40" width="4.59" height="23.00" fill="#3a923a" stroke="#3f3f3f" stroke-width="0.8"/>
<ellipse cx="173.96" cy="302.40" rx="0.95" ry="1.55" fill="#3f3f3f"/>
<line x1="182.14" y1="325.40" x2="182.14" y2="302.40" stroke="#3f3f3f" stroke-width="1.0"/>
<line x1="182.14" y1="348.40" x2="182.14" y2="371.40" stroke="#3f3f3f" stroke-width="1.0"/>
<line x1="181.00" y1="302.40" x2="183.29" y2="302.40" stroke="#3f3f3f" stroke-width="1.0"/>
<line x1="181.00" y1="371.40" x2="183.29" y2="371.40" stroke="#3f3f3f" stroke-width="1.0"/>
<rect x="179.85" y="325.40" width="4.59" height="23.00" fill="#3274a1" stroke="#3f3f3f" stroke-width="0.8"/>
<ellipse cx="182.14" cy="279.40" rx="0.95" ry="1.55" fill="#3f3f3f"/>
<line x1="186.82" y1="325.40" x2="186.82" y2="302.40" stroke="#3f3f3f" stroke-width="1.0"/>
<line x1="186.82" y1="348.40" x2="186.82" y2="371.40" stroke="#3f3f3f" stroke-width="1.0"/>
<line x1="185.68" y1="302.40" x2="187.97" y2="302.40" stroke="#3f3f3f" stroke-width="1.0"/>
<line x1="185.68" y1="371.40" x2="187.97" y2="371.40" stroke="#3f3f3f" stroke-width="1.0"/>
<rect x="184.53" y="325.40" width="4.59" height="23.00" fill="#e1812c" stroke="#3f3f3f" stroke-width="0.8"/>
<ellipse cx="186.82" cy="279.40" rx="0.95" ry="1.55" fill="#3f3f3f"/>
<line x1="191.50" y1="325.40" x2="191.50" y2="302.40" stroke="#3f3f3f" stroke-width="1.0"/>
<line x1="191.50" y1="348.40" x2="191.50" y2="371.40" stroke="#3f3f3f" stroke-width="1.0"/>
<line x1="190.36" y1="302.40" x2="192.65" y2="302.40" stroke="#3f3f3f" stroke-width="1.0"/>
<line x1="190.36" y1="371.40" x2="192.65" y2="371.40" stroke="#3f3f3f" stroke-width="1.0"/>
<rect x="189.21" y="325.40" width="4.59" height="23.00" fill="#3a923a" stroke="#3f3f3f" stroke-width="0.8"/>
<ellipse cx="191.50" cy="279.40" rx="0.95" ry="1.55" fill="#3f3f3f"/>
<line x1="199.69" y1="302.40" x2="199.69" y2="325.40" stroke="#3f3f3f" stroke-width="1.0"/>
<line x1="198.55" y1="325.40" x2="200.84" y2="325.40" stroke="#3f3f3f" stroke-width="1.0"/>
<rect x="197.40" y="279.40" width="4.59" height="23.00" fill="#3274a1" stroke="#3f3f3f" stroke-width="0.8"/>
<ellipse cx="199.69" cy="371.40" rx="0.95" ry="1.55" fill="#3f3f3f"/>
<line x1="204.38" y1="302.40" x2="204.38" y2="325.40" stroke="#3f3f3f" stroke-width="1.0"/>
<line x1="203.23" y1="325.40" x2="205.52" y2="325.40" stroke="#3f3f3f" stroke-width="1.0"/>
<rect x="202.08" y="279.40" width="4.59" height="23.00" fill="#e1812c" stroke="#3f3f3f" stroke-width="0.8"/>
<ellipse cx="204.38" cy="348.40" rx="0.95" ry="1.55" fill="#3f3f3f"/>
<line x1="209.06" y1="302.40" x2="209.06" y2="279.40" stroke="#3f3f3f" stroke-width="1.0"/>
<line x1="209.06" y1="348.40" x2="209.06" y2="371.40" stroke="#3f3f3f" stroke-width="1.0"/>
<line x1="207.91" y1="279.40" x2="210.20" y2="279.40" stroke="#3f3f3f" stroke-width="1.0"/>
<line x1="207.91" y1="371.40" x2="210.20" y2="371.40" stroke="#3f3f3f" stroke-width="1.0"/>
<rect x="206.76" y="302.40" width="4.59" height="46.00" fill="#3a923a" stroke="#3f3f3f" stroke-width="0.8"/>
<line x1="206.76" y1="325.40" x2="211.35" y2="325.40" stroke="#3f3f3f" stroke-width="0.9"/>
<line x1="217.25" y1="302.40" x2="217.25" y2="325.40" stroke="#3f3f3f" stroke-width="1.0"/>
<line x1="216.10" y1="325.40" x2="218.39" y2="325.40" stroke="#3f3f3f" stroke-width="1.0"/>
<rect x="214.95" y="279.40" width="4.59" height="23.00" fill="#3274a1" stroke="#3f3f3f" stroke-width="0.8"/>
<ellipse cx="217.25" cy="348.40" rx="0.95" ry="1.55" fill="#3f3f3f"/>
<line x1="219.63" y1="279.50" x2="224.22" y2="279.50" stroke="#3f3f3f" stroke-width="1.0"/>
<ellipse cx="221.93" cy="302.40" rx="0.95" ry="1.55" fill="#3f3f3f"/>
<line x1="226.61" y1="302.40" x2="226.61" y2="279.40" stroke="#3f3f3f" stroke-width="1.0"/>
<line x1="226.61" y1="325.40" x2="226.61" y2="348.40" stroke="#3f3f3f" stroke-width="1.0"/>
<line x1="225.46" y1="279.40" x2="227.75" y2="279.40" stroke="#3f3f3f" stroke-width="1.0"/>
<line x1="225.46" y1="348.40" x2="227.75" y2="348.40" stroke="#3f3f3f" stroke-width="1.0"/>
<rect x="224.31" y="302.40" width="4.59" height="23.00" fill="#3a923a" stroke="#3f3f3f" stroke-width="0.8"/>
<ellipse cx="226.61" cy="371.40" rx="0.95" ry="1.55" fill="#3f3f3f"/>
<line x1="234.80" y1="302.40" x2="234.80" y2="325.40" stroke="#3f3f3f" stroke-width="1.0"/>
<line x1="233.65" y1="325.40" x2="235.94" y2="325.40" stroke="#3f3f3f" stroke-width="1.0"/>
<rect x="232.50" y="279.40" width="4.59" height="23.00" fill="#3274a1" stroke="#3f3f3f" stroke-width="0.8"/>
<ellipse cx="234.80" cy="348.40" rx="0.95" ry="1.55" fill="#3f3f3f"/>
<line x1="239.48" y1="302.40" x2="239.48" y2="325.40" stroke="#3f3f3f" stroke-width="1.0"/>
<line x1="238.33" y1="325.40" x2="240.62" y2="325.40" stroke="#3f3f3f" stroke-width="1.0"/>
<rect x="237.18" y="279.40" width="4.59" height="23.00" fill="#e1812c" stroke="#3f3f3f" stroke-width="0.8"/>
<line x1="244.16" y1="302.40" x2="244.16" y2="325.40" stroke="#3f3f3f" stroke-width="1.0"/>
<line x1="243.01" y1="325.40" x2="245.30" y2="325.40" stroke="#3f3f3f" stroke-width="1.0"/>
<rect x="241.86" y="279.40" width="4.59" height="23.00" fill="#3a923a" stroke="#3f3f3f" stroke-width="0.8"/>
<ellipse cx="244.16" cy="348.40" rx="0.95" ry="1.55" fill="#3f3f3f"/>
<line x1="250.05" y1="279.50" x2="254.64" y2="279.50" stroke="#3f3f3f" stroke-width="1.0"/>
<ellipse cx="252.34" cy="302.40" rx="0.95" ry="1.55" fill="#3f3f3f"/>
<ellipse cx="252.34" cy="325.40" rx="0.95" ry="1.55" fill="#3f3f3f"/>
<line x1="254.73" y1="279.50" x2="259.32" y2="279.50" stroke="#3f3f3f" stroke-width="1.0"/>
<ellipse cx="257.02" cy="302.40" rx="0.95" ry="1.55" fill="#3f3f3f"/>
<line x1="261.70" y1="302.40" x2="261.70" y2="325.40" stroke="#3f3f3f" stroke-width="1.0"/>
<line x1="260.56" y1="325.40" x2="262.85" y2="325.40" stroke="#3f3f3f" stroke-width="1.0"/>
<rect x="259.41" y="279.40" width="4.59" height="23.00" fill="#3a923a" stroke="#3f3f3f" stroke-width="0.8"/>
<ellipse cx="261.70" cy="348.40" rx="0.95" ry="1.55" fill="#3f3f3f"/>
<line x1="267.60" y1="279.50" x2="272.19" y2="279.50" stroke="#3f3f3f" stroke-width="1.0"/>
<ellipse cx="269.89" cy="302.40" rx="0.95" ry="1.55" fill="#3f3f3f"/>
<line x1="272.28" y1="279.50" x2="276.87" y2="279.50" stroke="#3f3f3f" stroke-width="1.0"/>
<ellipse cx="274.57" cy="302.40" rx="0.95" ry="1.55" fill="#3f3f3f"/>
<line x1="279.25" y1="302.40" x2="279.25" y2="325.40" stroke="#3f3f3f" stroke-width="1.0"/>
<line x1="278.11" y1="325.40" x2="280.40" y2="325.40" stroke="#3f3f3f" stroke-width="1.0"/>
<rect x="276.96" y="279.40" width="4.59" height="23.00" fill="#3a923a" stroke="#3f3f3f" stroke-width="0.8"/>
<ellipse cx="279.25" cy="348.40" rx="0.95" ry="1.55" fill="#3f3f3f"/>
<text x="23.00" y="374.00" font-size="7.4" text-anchor="middle" fill="#2e2e2e">0</text>
<text x="23.00" y="351.00" font-size="7.4" text-anchor="middle" fill="#2e2e2e">1</text>
<text x="23.00" y="328.00" font-size="7.4" text-anchor="middle" fill="#2e2e2e">2</text>
<text x="23.00" y="305.00" font-size="7.4" text-anchor="middle" fill="#2e2e2e">3</text>
<text x="23.00" y="282.00" font-size="7.4" text-anchor="middle" fill="#2e2e2e">4</text>
<text x="38.38" y="385.80" font-size="7.6" text-anchor="middle" fill="#2e2e2e" textLength="9.40" lengthAdjust="spacingAndGlyphs">1.6</text>
<text x="55.93" y="385.80" font-size="7.6" text-anchor="middle" fill="#2e2e2e" textLength="9.40" lengthAdjust="spacingAndGlyphs">1.7</text>
<text x="73.47" y="385.80" font-size="7.6" text-anchor="middle" fill="#2e2e2e" textLength="9.40" lengthAdjust="spacingAndGlyphs">1.8</text>
<text x="91.03" y="385.80" font-size="7.6" text-anchor="middle" fill="#2e2e2e" textLength="9.40" lengthAdjust="spacingAndGlyphs">1.9</text>
<text x="108.58" y="385.80" font-size="7.6" text-anchor="middle" fill="#2e2e2e" textLength="9.40" lengthAdjust="spacingAndGlyphs">2.0</text>
<text x="126.12" y="385.80" font-size="7.6" text-anchor="middle" fill="#2e2e2e" textLength="9.40" lengthAdjust="spacingAndGlyphs">2.1</text>
<text x="143.68" y="385.80" font-size="7.6" text-anchor="middle" fill="#2e2e2e" textLength="9.40" lengthAdjust="spacingAndGlyphs">2.2</text>
<text x="91.03" y="394.10" font-size="8.0" text-anchor="middle" fill="#2e2e2e" textLength="57.70" lengthAdjust="spacingAndGlyphs">resolution [mm]</text>
<text x="169.28" y="385.80" font-size="7.6" text-anchor="middle" fill="#2e2e2e" textLength="9.40" lengthAdjust="spacingAndGlyphs">1.6</text>
<text x="186.82" y="385.80" font-size="7.6" text-anchor="middle" fill="#2e2e2e" textLength="9.40" lengthAdjust="spacingAndGlyphs">1.7</text>
<text x="204.38" y="385.80" font-size="7.6" text-anchor="middle" fill="#2e2e2e" textLength="9.40" lengthAdjust="spacingAndGlyphs">1.8</text>
<text x="221.93" y="385.80" font-size="7.6" text-anchor="middle" fill="#2e2e2e" textLength="9.40" lengthAdjust="spacingAndGlyphs">1.9</text>
<text x="239.48" y="385.80" font-size="7.6" text-anchor="middle" fill="#2e2e2e" textLength="9.40" lengthAdjust="spacingAndGlyphs">2.0</text>
<text x="257.02" y="385.80" font-size="7.6" text-anchor="middle" fill="#2e2e2e" textLength="9.40" lengthAdjust="spacingAndGlyphs">2.1</text>
<text x="274.57" y="385.80" font-size="7.6" text-anchor="middle" fill="#2e2e2e" textLength="9.40" lengthAdjust="spacingAndGlyphs">2.2</text>
<text x="221.93" y="394.10" font-size="8.0" text-anchor="middle" fill="#2e2e2e" textLength="57.70" lengthAdjust="spacingAndGlyphs">resolution [mm]</text>
<text x="83.00" y="272.80" font-size="7.9" text-anchor="middle" fill="#2e2e2e">x</text>
<text x="213.00" y="272.30" font-size="7.9" text-anchor="middle" fill="#2e2e2e">y</text>
<text x="96.70" y="269.20" font-size="8.8" text-anchor="start" fill="#2e2e2e" textLength="111.80" lengthAdjust="spacingAndGlyphs">(f) High Contrast Resolution</text>
<text x="17.00" y="326.00" font-size="8.0" text-anchor="middle" fill="#2e2e2e" textLength="88.00" lengthAdjust="spacingAndGlyphs" transform="rotate(-90 17.00 326.00)">number of lines resolved</text>
<text x="297.50" y="319.60" font-size="8.0" text-anchor="start" fill="#2e2e2e" textLength="27.00" lengthAdjust="spacingAndGlyphs">dataset</text>
<rect x="285.30" y="324.50" width="13.70" height="4.80" fill="#3274a1" stroke="#3f3f3f" stroke-width="0.5"/>
<text x="304.00" y="329.50" font-size="7.8" text-anchor="start" fill="#2e2e2e" textLength="31.40" lengthAdjust="spacingAndGlyphs">reference</text>
<rect x="285.30" y="334.00" width="13.70" height="4.80" fill="#e1812c" stroke="#3f3f3f" stroke-width="0.5"/>
<text x="304.00" y="339.00" font-size="7.8" text-anchor="start" fill="#2e2e2e" textLength="33.20" lengthAdjust="spacingAndGlyphs">m4raw 1x</text>
<rect x="285.30" y="343.50" width="13.70" height="4.80" fill="#3a923a" stroke="#3f3f3f" stroke-width="0.5"/>
<text x="304.00" y="348.50" font-size="7.8" text-anchor="start" fill="#2e2e2e" textLength="33.20" lengthAdjust="spacingAndGlyphs">m4raw 2x</text>
<line x1="396.80" y1="371.80" x2="544.00" y2="371.80" stroke="#d9d9d9" stroke-width="0.8" stroke-dasharray="1.9 1.6"/>
<line x1="396.80" y1="353.30" x2="544.00" y2="353.30" stroke="#d9d9d9" stroke-width="0.8" stroke-dasharray="1.9 1.6"/>
<line x1="396.80" y1="334.80" x2="544.00" y2="334.80" stroke="#d9d9d9" stroke-width="0.8" stroke-dasharray="1.9 1.6"/>
<line x1="396.80" y1="316.30" x2="544.00" y2="316.30" stroke="#d9d9d9" stroke-width="0.8" stroke-dasharray="1.9 1.6"/>
<line x1="396.80" y1="297.80" x2="544.00" y2="297.80" stroke="#d9d9d9" stroke-width="0.8" stroke-dasharray="1.9 1.6"/>
<rect x="396.30" y="279.50" width="148.20" height="96.60" fill="none" stroke="#d4d4d4" stroke-width="0.9"/>
<line x1="421.00" y1="297.80" x2="421.00" y2="288.55" stroke="#3f3f3f" stroke-width="1.2"/>
<line x1="421.00" y1="307.05" x2="421.00" y2="316.30" stroke="#3f3f3f" stroke-width="1.2"/>
<line x1="411.12" y1="288.55" x2="430.88" y2="288.55" stroke="#3f3f3f" stroke-width="1.2"/>
<line x1="411.12" y1="316.30" x2="430.88" y2="316.30" stroke="#3f3f3f" stroke-width="1.2"/>
<rect x="401.24" y="297.80" width="39.52" height="9.25" fill="#3274a1" stroke="#3f3f3f" stroke-width="1.1"/>
<ellipse cx="421.00" cy="325.55" rx="0.95" ry="1.40" fill="#3f3f3f"/>
<line x1="470.40" y1="297.80" x2="470.40" y2="288.55" stroke="#3f3f3f" stroke-width="1.2"/>
<line x1="470.40" y1="316.30" x2="470.40" y2="344.05" stroke="#3f3f3f" stroke-width="1.2"/>
<line x1="460.52" y1="288.55" x2="480.28" y2="288.55" stroke="#3f3f3f" stroke-width="1.2"/>
<line x1="460.52" y1="344.05" x2="480.28" y2="344.05" stroke="#3f3f3f" stroke-width="1.2"/>
<rect x="450.64" y="297.80" width="39.52" height="18.50" fill="#e1812c" stroke="#3f3f3f" stroke-width="1.1"/>
<line x1="450.64" y1="307.05" x2="490.16" y2="307.05" stroke="#3f3f3f" stroke-width="1.1"/>
<line x1="519.80" y1="334.80" x2="519.80" y2="316.30" stroke="#3f3f3f" stroke-width="1.2"/>
<line x1="519.80" y1="353.30" x2="519.80" y2="371.80" stroke="#3f3f3f" stroke-width="1.2"/>
<line x1="509.92" y1="316.30" x2="529.68" y2="316.30" stroke="#3f3f3f" stroke-width="1.2"/>
<line x1="509.92" y1="371.80" x2="529.68" y2="371.80" stroke="#3f3f3f" stroke-width="1.2"/>
<rect x="500.04" y="334.80" width="39.52" height="18.50" fill="#3a923a" stroke="#3f3f3f" stroke-width="1.1"/>
<line x1="500.04" y1="344.05" x2="539.56" y2="344.05" stroke="#3f3f3f" stroke-width="1.1"/>
<text x="390.60" y="374.50" font-size="7.8" text-anchor="end" fill="#2e2e2e">0</text>
<text x="390.60" y="356.00" font-size="7.8" text-anchor="end" fill="#2e2e2e">2</text>
<text x="390.60" y="337.50" font-size="7.8" text-anchor="end" fill="#2e2e2e">4</text>
<text x="390.60" y="319.00" font-size="7.8" text-anchor="end" fill="#2e2e2e">6</text>
<text x="390.60" y="300.50" font-size="7.8" text-anchor="end" fill="#2e2e2e">8</text>
<text x="390.60" y="282.00" font-size="7.8" text-anchor="end" fill="#2e2e2e">10</text>
<text x="421.00" y="387.20" font-size="8.0" text-anchor="middle" fill="#2e2e2e" textLength="35.20" lengthAdjust="spacingAndGlyphs">reference</text>
<text x="470.40" y="387.20" font-size="8.0" text-anchor="middle" fill="#2e2e2e" textLength="36.70" lengthAdjust="spacingAndGlyphs">m4raw 1x</text>
<text x="519.80" y="387.20" font-size="8.0" text-anchor="middle" fill="#2e2e2e" textLength="36.70" lengthAdjust="spacingAndGlyphs">m4raw 2x</text>
<text x="470.10" y="395.90" font-size="8.0" text-anchor="middle" fill="#2e2e2e" textLength="30.20" lengthAdjust="spacingAndGlyphs">dataset</text>
<text x="401.00" y="276.60" font-size="8.6" text-anchor="start" fill="#2e2e2e" textLength="10.50" lengthAdjust="spacingAndGlyphs">(g)</text>
<text x="417.60" y="276.60" font-size="8.6" text-anchor="start" fill="#2e2e2e" textLength="105.00" lengthAdjust="spacingAndGlyphs">Low Contrast Detectability</text>
<text x="378.30" y="328.30" font-size="8.2" text-anchor="middle" fill="#2e2e2e" textLength="87.00" lengthAdjust="spacingAndGlyphs" transform="rotate(-90 378.30 328.30)">num_complete_spoke</text>
</svg>
</body></html>
